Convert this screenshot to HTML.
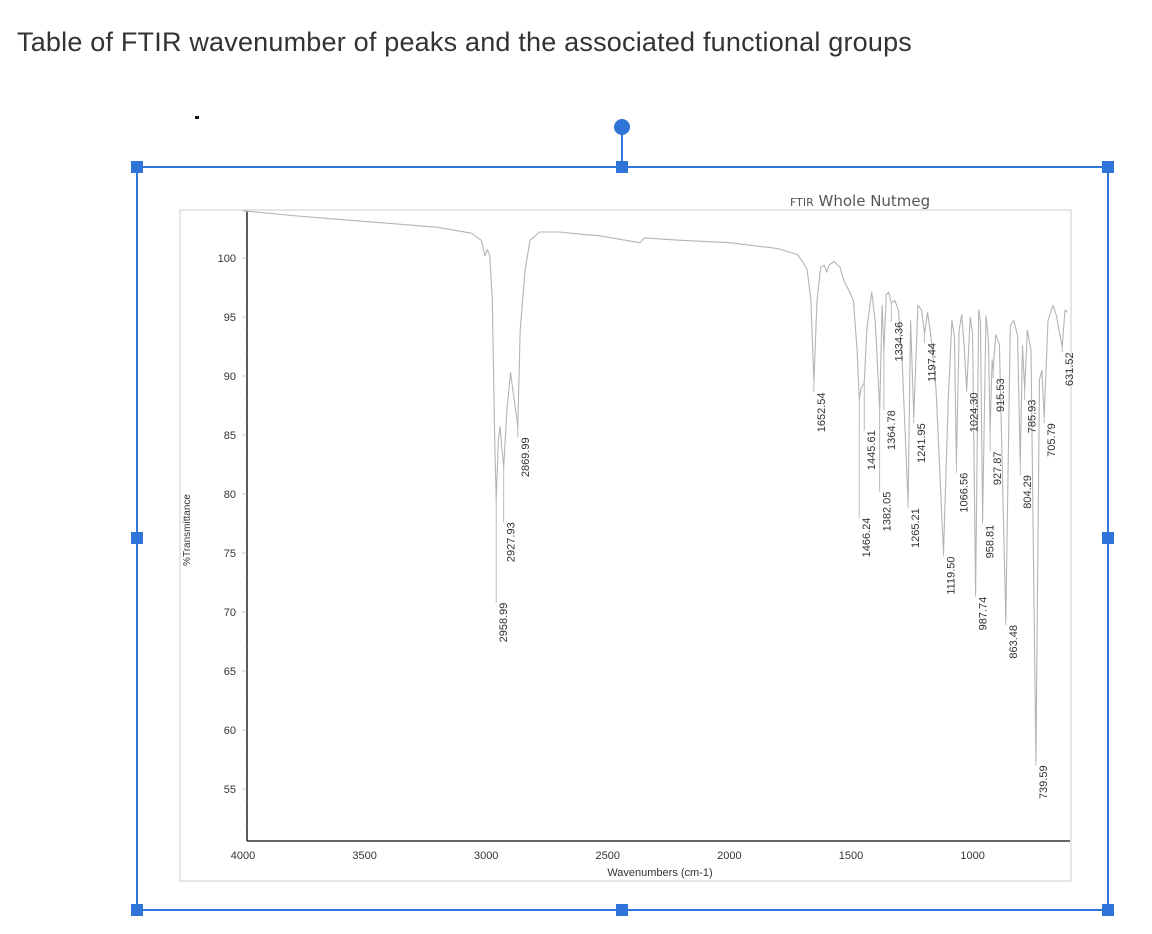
<!DOCTYPE html>
<html><head><meta charset="utf-8"><style>
html,body{margin:0;padding:0;background:#fff;}
body{width:1152px;height:934px;position:relative;overflow:hidden;font-family:"Liberation Sans",sans-serif;}
#title{position:absolute;left:17px;top:27px;font-size:27px;color:#333;white-space:nowrap;letter-spacing:0.2px;}
svg{position:absolute;left:0;top:0;}
</style></head><body>
<div id="title">Table of FTIR wavenumber of peaks and the associated functional groups</div>
<svg id="chart" width="1152" height="934">
  <rect x="180" y="210" width="891" height="671" fill="none" stroke="#ccc" stroke-width="1"/>
  <text x="790" y="206" font-family="DejaVu Sans, sans-serif" font-size="15" fill="#555"><tspan font-size="11">FTIR</tspan>  Whole Nutmeg</text>
  <g id="axes"></g>
  <g id="spec"></g>
  <g id="labels"></g>
  <text x="660" y="876" text-anchor="middle" font-size="11" fill="#333">Wavenumbers (cm-1)</text>
  <text transform="translate(190,530) rotate(-90)" text-anchor="middle" font-size="10" fill="#333">%Transmittance</text>
  <g id="selection">
    <rect x="137" y="167" width="971" height="743" fill="none" stroke="#2f74d8" stroke-width="2"/>
    <line x1="622" y1="127" x2="622" y2="167" stroke="#2f74d8" stroke-width="2"/>
    <circle cx="622" cy="127" r="8" fill="#2f74d8"/>
  </g>
  <g id="handles"></g>
  <rect x="195" y="116" width="4" height="3" fill="#111"/>
</svg>
<script>
const wavenumbers=[4000,3800,3500,3200,3060,3020,3005,2995,2985,2975,2965,2958.99,2950,2943,2935,2927.93,2915,2900,2885,2869.99,2860,2840,2820,2780,2700,2600,2540,2368,2350,2200,2000,1800,1720,1700,1680,1665,1652.54,1640,1625,1610,1600,1590,1570,1545,1530,1510,1490,1475,1466.24,1458,1445.61,1435,1415,1400,1382.05,1372,1364.78,1355,1345,1334.36,1320,1305,1290,1265.21,1255,1241.95,1225,1210,1197.44,1185,1170,1150,1119.5,1100,1085,1075,1066.56,1055,1045,1035,1024.3,1010,1000,987.74,975,968,958.81,945,935,927.87,920,915.53,905,890,863.48,845,830,815,804.29,795,785.93,775,760,739.59,725,715,705.79,690,670,655,645,631.52,620,610];
const transmittance=[104.0,103.6,103.1,102.6,102.1,101.5,100.2,100.7,100.2,96.4,84.6,79.5,84.6,85.7,83.8,82.3,87.1,90.3,88.0,85.7,93.9,99.0,101.5,102.2,102.2,102.0,101.9,101.3,101.7,101.5,101.3,100.8,100.3,99.7,99.0,96.4,89.5,96.4,99.2,99.4,98.8,99.4,99.7,99.2,98.1,97.3,96.4,92.2,88.0,89.0,89.4,93.9,97.1,94.6,87.1,96.0,92.2,96.9,97.1,96.2,96.4,95.6,91.4,79.2,94.7,86.5,96.0,95.6,93.6,95.4,93.1,88.8,75.0,88.1,94.7,93.4,82.6,93.9,95.2,92.6,88.8,95.0,93.6,71.6,95.6,94.7,77.8,95.1,93.1,85.2,91.4,90.5,93.5,92.7,69.3,94.3,94.7,93.4,82.6,92.6,88.8,93.9,92.2,57.3,89.7,90.5,86.5,94.7,96.0,95.1,93.9,92.5,95.6,95.4];
const peakWavenumbers=[2958.99,2927.93,2869.99,1652.54,1466.24,1445.61,1382.05,1364.78,1334.36,1265.21,1241.95,1197.44,1119.50,1066.56,1024.30,987.74,958.81,927.87,915.53,863.48,804.29,785.93,739.59,705.79,631.52];
const peakLabels=["2958.99","2927.93","2869.99","1652.54","1466.24","1445.61","1382.05","1364.78","1334.36","1265.21","1241.95","1197.44","1119.50","1066.56","1024.30","987.74","958.81","927.87","915.53","863.48","804.29","785.93","739.59","705.79","631.52"];
const peakMinT=[79.5,82.3,85.7,89.5,88.0,89.4,87.1,92.2,96.2,79.2,86.5,93.6,75.0,82.6,88.8,71.6,77.8,85.2,90.5,69.3,82.6,88.8,57.3,86.5,92.5];
const peakLabelT=[70.8,77.6,84.8,88.6,78.0,85.4,80.2,87.1,94.6,78.8,86.0,92.8,74.7,81.8,88.6,71.3,77.4,83.6,89.8,68.9,81.6,88.0,57.0,86.0,92.0];
const yTicks=[100,95,90,85,80,75,70,65,60,55];
const xTicks=[4000,3500,3000,2500,2000,1500,1000];

const NS="http://www.w3.org/2000/svg";
const X=w=>243+(4000-w)*0.2432;
const Y=t=>258+(100-t)*11.8;
function mk(tag,attrs,parent){const e=document.createElementNS(NS,tag);for(const k in attrs)e.setAttribute(k,attrs[k]);parent.appendChild(e);return e;}
const axes=document.getElementById('axes');
const yl=mk('line',{x1:247,y1:211,x2:247,y2:841,stroke:'#333','stroke-width':1.6},axes);


const xl=mk('line',{x1:247,y1:841,x2:1070,y2:841,stroke:'#333','stroke-width':1.6},axes);


for(let t=52;t<=104;t++){mk('line',{x1:t%5===0?242:245,y1:Y(t),x2:247,y2:Y(t),stroke:'#aaa','stroke-width':0.6},axes);}
yTicks.forEach(t=>{
  const e=mk('text',{x:236,y:Y(t)+4,'text-anchor':'end','font-size':11,fill:'#333'},axes);
  e.textContent=t;
  
  
});
xTicks.forEach(w=>{
  const e=mk('text',{x:X(w),y:859,'text-anchor':'middle','font-size':11,fill:'#333'},axes);
  e.textContent=w;
  
  
});
const spec=document.getElementById('spec');
const pts=wavenumbers.map((w,i)=>X(w).toFixed(1)+','+Y(transmittance[i]).toFixed(1)).join(' ');
const pl=mk('polyline',{points:pts,fill:'none',stroke:'#b4b4b4','stroke-width':1.1,'stroke-linejoin':'round'},spec);


const lab=document.getElementById('labels');
peakWavenumbers.forEach((w,i)=>{
  const x=X(w);
  const ln=mk('line',{x1:x,y1:Y(peakMinT[i]),x2:x,y2:Y(peakLabelT[i]),stroke:'#aaa','stroke-width':0.8},lab);
  
  
  const tx=mk('text',{transform:`translate(${(x+11).toFixed(1)},${Y(peakLabelT[i]).toFixed(1)}) rotate(-90)`,'text-anchor':'end','font-size':11,fill:'#333'},lab);
  tx.textContent=peakLabels[i];
  
  
});
const hg=document.getElementById('handles');
[[137,167],[622,167],[1108,167],[137,538],[1108,538],[137,910],[622,910],[1108,910]].forEach(p=>{
  const r=mk('rect',{x:p[0]-6,y:p[1]-6,width:12,height:12,fill:'#2f74d8'},hg);
  
  
});
</script>
</body></html>
